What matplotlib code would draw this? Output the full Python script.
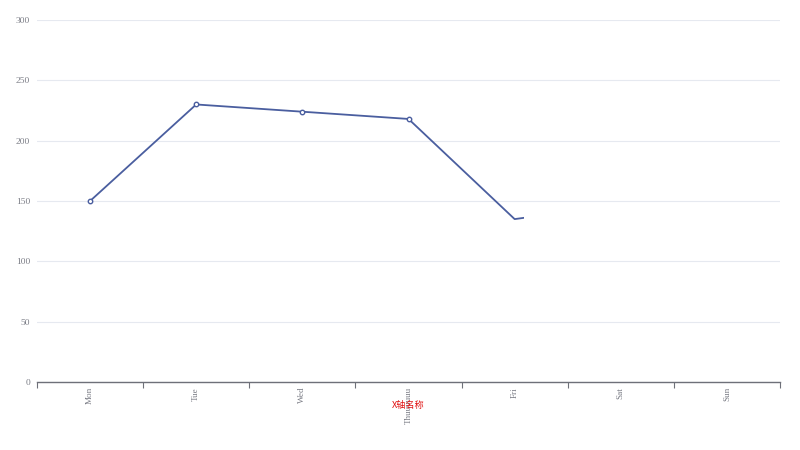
import matplotlib
matplotlib.use("Agg")
import matplotlib.pyplot as plt
from matplotlib.patches import Rectangle

categories = ['Mon', 'Tue', 'Wed', 'Thuuuuuu', 'Fri', 'Sat', 'Sun']
values = [150, 230, 224, 218, 135, 147, 260]
y_ticks = [0, 50, 100, 150, 200, 250, 300]
x_axis_name = 'X轴名称'
drawn_until = 4.09      # line animation captured partway past Fri
markers_shown = 4       # markers visible for the first four points

LINE = '#4a5e9f'
AXIS = '#6e7079'
TEXT = '#7a7c85'
GRID = '#e6e9f0'

fig = plt.figure(figsize=(8, 4.5), dpi=100)
ax = fig.add_axes([37/800, 1 - 382/450, (780-37)/800, (382-20)/450])

x = list(range(len(categories)))
line, = ax.plot(x, values, color=LINE, lw=1.3, zorder=3)
clip = Rectangle((-0.5, -10), drawn_until + 0.5, 400, transform=ax.transData)
line.set_clip_path(clip)
ax.plot(x[:markers_shown], values[:markers_shown], ls='none', marker='o',
        ms=3.2, mfc='white', mec=LINE, mew=1.0, zorder=4)

ax.set_xlim(-0.5, len(categories) - 0.5)
ax.set_ylim(0, 300)
ax.set_yticks(y_ticks)
ax.set_yticklabels([str(v) for v in y_ticks])
ax.yaxis.grid(True, color=GRID, lw=0.8)
ax.set_axisbelow(True)

ax.set_xticks(x)
ax.set_xticklabels(categories, rotation=90, va='top', ha='center')
ax.set_xticks([i - 0.5 for i in range(len(categories) + 1)], minor=True)

for s in ['top', 'right', 'left']:
    ax.spines[s].set_visible(False)
ax.spines['bottom'].set_color(AXIS)
ax.spines['bottom'].set_linewidth(1.0)

ax.tick_params(axis='x', which='major', length=0, pad=3.5, labelsize=6.6,
               labelcolor=TEXT, labelfontfamily='Liberation Serif')
ax.tick_params(axis='x', which='minor', length=4, color=AXIS, width=0.8)
ax.tick_params(axis='y', length=0, pad=5, labelsize=6.8, labelcolor=TEXT,
               labelfontfamily='Liberation Serif')

ax.text(0.5, -0.065, x_axis_name, transform=ax.transAxes, ha='center', va='center',
        color='#e01010', fontsize=6.6, family=['Noto Sans CJK SC', 'DejaVu Sans'])

fig.savefig('out.png', dpi=100)
